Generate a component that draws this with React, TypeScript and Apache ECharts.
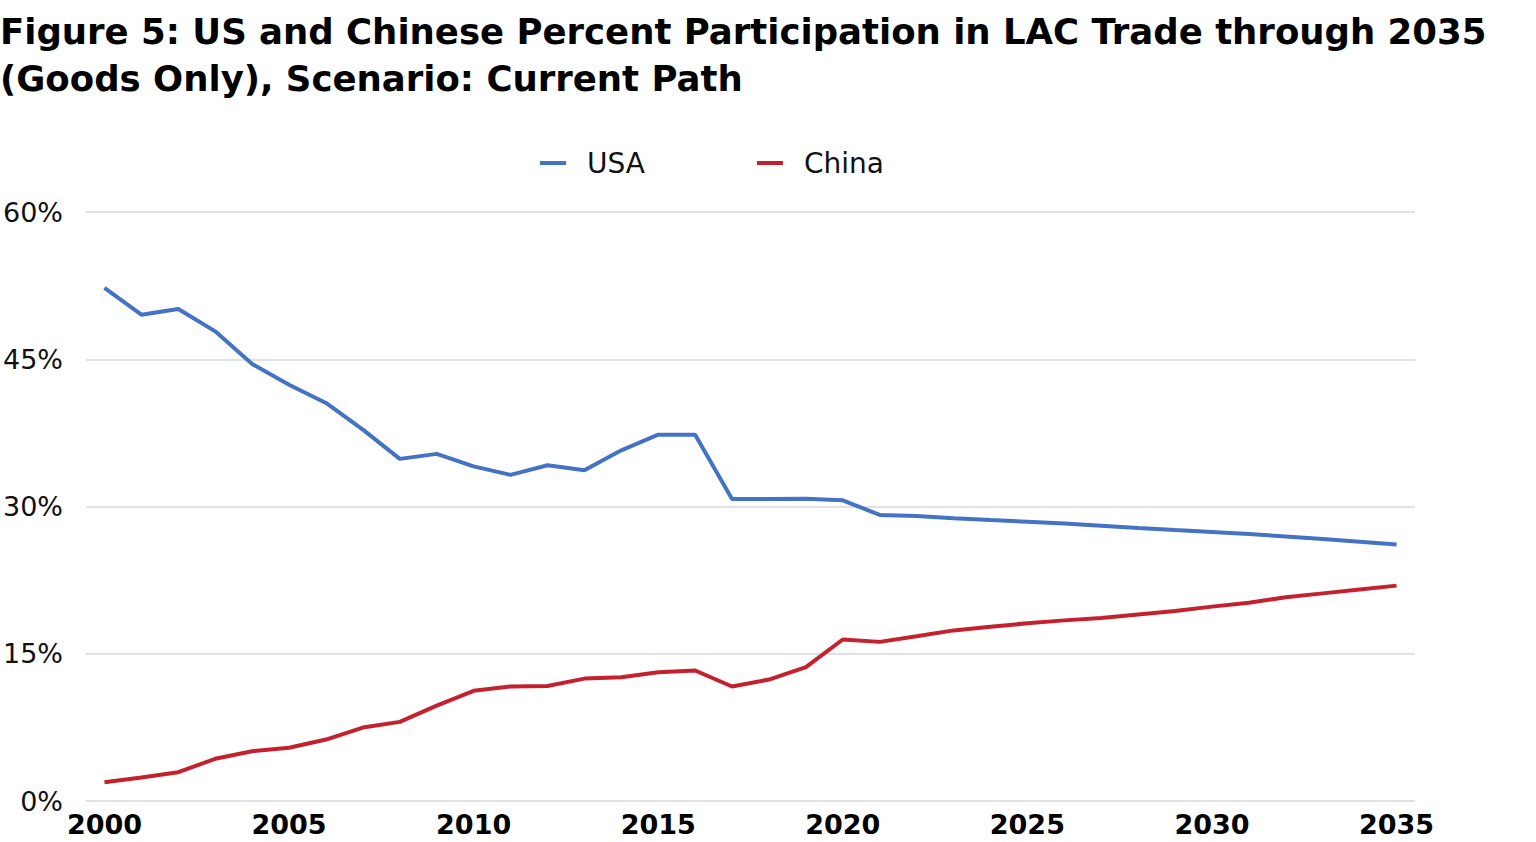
import React, { useEffect, useRef } from "react";
import * as echarts from "echarts";

const years = Array.from({ length: 36 }, (_, i) => String(2000 + i));

const usa = [
  52.26, 49.54, 50.12, 47.84, 44.52, 42.41, 40.55, 37.83, 34.85, 35.36,
  34.09, 33.22, 34.2, 33.69, 35.72, 37.32, 37.32, 30.77, 30.77, 30.8,
  30.63, 29.14, 29.04, 28.8, 28.62, 28.45, 28.27, 28.05, 27.82, 27.6,
  27.4, 27.2, 26.95, 26.7, 26.42, 26.12,
];

const china = [
  1.92, 2.39, 2.93, 4.3, 5.07, 5.42, 6.26, 7.48, 8.06, 9.72,
  11.22, 11.66, 11.71, 12.47, 12.61, 13.12, 13.29, 11.66, 12.37, 13.63,
  16.45, 16.21, 16.78, 17.38, 17.75, 18.1, 18.4, 18.65, 19.0, 19.35,
  19.8, 20.2, 20.75, 21.15, 21.55, 21.94,
];

const titleText =
  "Figure 5: US and Chinese Percent Participation in LAC Trade through 2035\n(Goods Only), Scenario: Current Path";

const FONT = "'DejaVu Sans', sans-serif";

export default function App() {
  const ref = useRef<HTMLDivElement>(null);
  useEffect(() => {
    if (!ref.current) return;
    const chart = echarts.init(ref.current, undefined, { renderer: "svg" });
    chart.setOption({
      animation: false,
      backgroundColor: "#ffffff",
      title: {
        text: titleText,
        left: 0,
        top: 8,
        padding: 0,
        textStyle: {
          fontFamily: FONT,
          fontSize: 35.5,
          fontWeight: "bold",
          color: "#000",
          lineHeight: 47,
        },
      },
      legend: {
        left: 540,
        top: 149,
        padding: 0,
        itemWidth: 26,
        itemHeight: 4,
        itemGap: 112,
        icon: "rect",
        textStyle: { fontFamily: FONT, fontSize: 28, color: "#111", padding: [0, 0, 0, 16] },
        data: ["USA", "China"],
      },
      grid: { left: 85, right: 121, top: 212, bottom: 41, containLabel: false },
      xAxis: {
        type: "category",
        data: years,
        boundaryGap: true,
        axisLine: { show: false },
        axisTick: { show: false },
        axisLabel: {
          interval: 4,
          margin: 10,
          fontFamily: FONT,
          fontSize: 27,
          fontWeight: "bold",
          color: "#000",
        },
      },
      yAxis: {
        type: "value",
        min: 0,
        max: 60,
        interval: 15,
        axisLine: { show: false },
        axisTick: { show: false },
        splitLine: { lineStyle: { color: "#d9d9d9", width: 1.5 } },
        axisLabel: {
          margin: 23,
          formatter: "{value}%",
          fontFamily: FONT,
          fontSize: 27,
          color: "#111",
        },
      },
      series: [
        {
          name: "USA",
          type: "line",
          data: usa,
          showSymbol: false,
          symbol: "none",
          lineStyle: { color: "#4472C4", width: 4 },
          itemStyle: { color: "#4472C4" },
        },
        {
          name: "China",
          type: "line",
          data: china,
          showSymbol: false,
          symbol: "none",
          lineStyle: { color: "#C5202E", width: 4 },
          itemStyle: { color: "#C5202E" },
        },
      ],
    });
    return () => chart.dispose();
  }, []);
  return (
    <div
      ref={ref}
      style={{ position: "fixed", left: 0, top: 0, width: 1536, height: 842 }}
    />
  );
}
